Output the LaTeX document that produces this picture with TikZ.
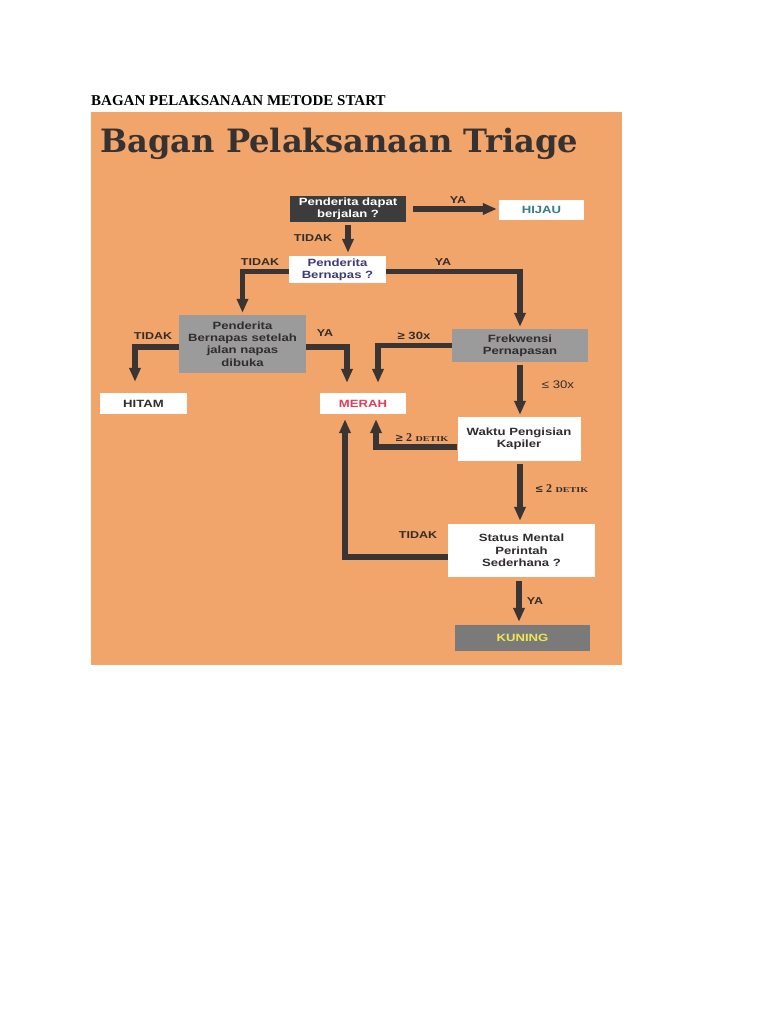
\documentclass[tikz,border=0pt]{standalone}
\usepackage{fontspec}
\setmainfont{Liberation Serif}
\newfontfamily\wsansb[FakeStretch=1.25]{Liberation Sans Bold}
\newfontfamily\wsans[FakeStretch=1.2]{Liberation Sans}
\newfontfamily\titlefont{DejaVu Serif Bold}
\newfontfamily\serifb{Liberation Serif Bold}
\newfontfamily\serifbw[FakeStretch=1.35]{Liberation Serif Bold}
\usetikzlibrary{arrows.meta}
\definecolor{bg}{RGB}{242,165,106}
\definecolor{linec}{RGB}{58,52,50}
\definecolor{darkbox}{RGB}{60,60,60}
\definecolor{graybox}{RGB}{155,155,155}
\definecolor{kuningbox}{RGB}{122,122,122}
\definecolor{txt}{RGB}{50,45,45}
\definecolor{hijauc}{RGB}{50,125,135}
\definecolor{merahc}{RGB}{225,60,90}
\definecolor{purplec}{RGB}{60,60,120}
\definecolor{kuningc}{RGB}{240,230,80}
\definecolor{titlec}{RGB}{55,50,50}
\begin{document}
\begin{tikzpicture}[x=1pt,y=-1pt,
  bx/.style={inner sep=0pt, align=center, text=txt,
    font=\wsansb\fontsize{10.5}{12.3}\selectfont},
  lab/.style={inner sep=0pt, text=txt, font=\wsansb\fontsize{10}{11}\selectfont},
  arr/.style={draw=linec, line width=5.5pt, -{Triangle[length=14pt,width=11pt]}},
]
\useasboundingbox (0,0) rectangle (768,1024);
\fill[white] (0,0) rectangle (768,1024);
\fill[bg] (91,112) rectangle (622,665);
\node[anchor=base west, inner sep=0pt, font=\serifb\fontsize{15}{17}\selectfont] (head) at (91,106) {BAGAN PELAKSANAAN METODE START};
\node[anchor=west, inner sep=0pt, text=titlec] (title) at (100,144) {\resizebox{478pt}{!}{\titlefont Bagan Pelaksanaan Triage}};

% boxes
\node[bx, fill=darkbox, text=white, minimum width=116pt, minimum height=26pt] (b1) at (348,209) {Penderita dapat\\berjalan ?};
\node[bx, fill=white, text=hijauc, minimum width=85pt, minimum height=20pt] (hijau) at (541.5,210) {HIJAU};
\node[bx, fill=white, text=purplec, minimum width=97pt, minimum height=27pt] (b2) at (337.5,269.5) {Penderita\\Bernapas ?};
\node[bx, fill=graybox, minimum width=127pt, minimum height=58pt] (b3) at (242.5,344) {Penderita\\Bernapas setelah\\jalan napas\\dibuka};
\node[bx, fill=white, minimum width=87pt, minimum height=21pt] (hitam) at (143.5,403.5) {HITAM};
\node[bx, fill=white, text=merahc, minimum width=86pt, minimum height=21pt] (merah) at (363,403.5) {MERAH};
\node[bx, fill=graybox, minimum width=136pt, minimum height=33pt] (b4) at (520,345.5) {Frekwensi\\Pernapasan};
\node[bx, fill=white, minimum width=123pt, minimum height=44pt] (b5) at (519,439) {Waktu Pengisian\\Kapiler};
\node[bx, fill=white, minimum width=147pt, minimum height=53pt] (b6) at (521.5,550.5) {Status Mental\\Perintah\\Sederhana ?};
\node[bx, fill=kuningbox, text=kuningc, minimum width=135pt, minimum height=26pt] (kuning) at (522.5,638) {KUNING};

% connectors
\draw[arr, shorten <=3pt, shorten >=3pt] (b1.south) -- (b1.south |- b2.north);
\draw[arr, shorten <=7pt, shorten >=2pt] (b1.east) -- (b1.east -| hijau.west);
\draw[arr, shorten >=2pt] ([yshift=-2pt]b2.west) -| (b3.north);
\draw[arr, shorten >=2pt] ([yshift=-2pt]b2.east) -| (b4.north);
\draw[arr, shorten >=11pt] ([yshift=-3pt]b3.west) -| ([xshift=-8.5pt]hitam.north);
\draw[arr, shorten >=10pt] ([yshift=-3pt]b3.east) -| ([xshift=-16pt]merah.north);
\draw[arr, shorten >=10pt] (b4.west) -| ([xshift=15pt]merah.north);
\draw[arr, shorten <=3pt, shorten >=2pt] (b4.south) -- (b4.south |- b5.north);
\draw[arr, shorten >=5pt] ([yshift=-8pt]b5.west) -| ([xshift=13pt]merah.south);
\draw[arr, shorten <=3pt, shorten >=3pt] ([xshift=1pt]b5.south) -- ([xshift=1pt]b5.south |- b6.north);
\draw[arr, shorten >=5pt] ([yshift=-6.5pt]b6.west) -| ([xshift=-18pt]merah.south);
\draw[arr, shorten <=4pt, shorten >=3pt] ([xshift=-2.5pt]b6.south) -- ([xshift=-2.5pt]b6.south |- kuning.north);

% labels
\node[lab] (l1) at (458,200) {YA};
\node[lab] (l2) at (313,238) {TIDAK};
\node[lab] (l3) at (260,262) {TIDAK};
\node[lab] (l4) at (443,262) {YA};
\node[lab] (l5) at (153,336) {TIDAK};
\node[lab] (l6) at (325,333) {YA};
\node[lab, font=\wsansb\fontsize{10.5}{11}\selectfont] (l7) at (414,336) {≥ 30x};
\node[lab, font=\wsans\fontsize{11}{12}\selectfont] (l8) at (558,385) {≤ 30x};
\node[lab] (l9) at (422,438) {≥ {\serifb\fontsize{12}{13}\selectfont 2} {\serifbw\fontsize{7.5}{8}\selectfont DETIK}};
\node[lab] (l10) at (562,489) {≤ {\serifb\fontsize{12}{13}\selectfont 2} {\serifbw\fontsize{7.5}{8}\selectfont DETIK}};
\node[lab] (l11) at (418,535) {TIDAK};
\node[lab] (l12) at (535,601) {YA};
\end{tikzpicture}
\end{document}
